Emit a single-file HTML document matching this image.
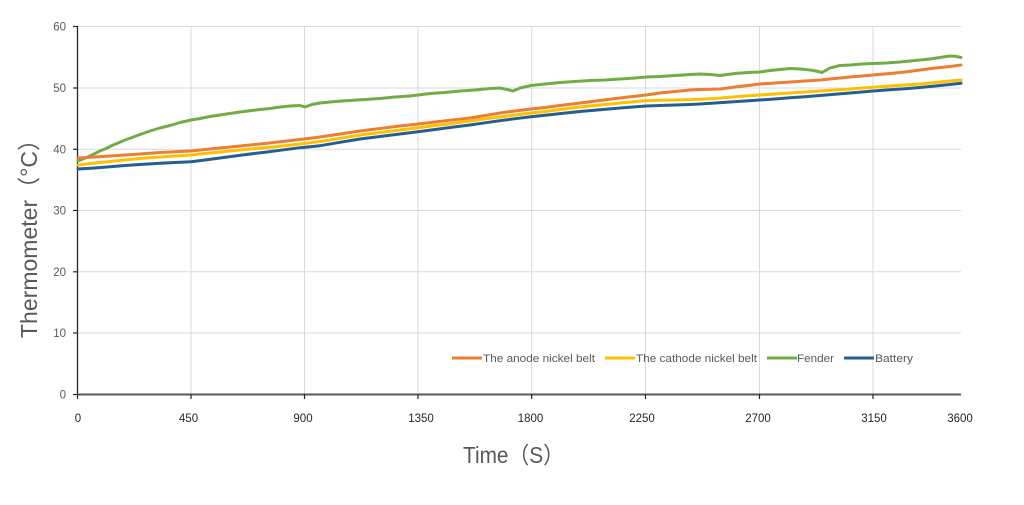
<!DOCTYPE html>
<html>
<head>
<meta charset="utf-8">
<style>
html,body{margin:0;padding:0;background:#fff;}
svg{display:block;}
text{font-family:"Liberation Sans","Noto Sans CJK SC",sans-serif;}
</style>
</head>
<body>
<svg width="1024" height="505" viewBox="0 0 1024 505" xmlns="http://www.w3.org/2000/svg">
<rect width="1024" height="505" fill="#fff"/>
<!-- horizontal gridlines -->
<g stroke="#d9d9d9" stroke-width="1">
<line x1="78" y1="26.5" x2="961" y2="26.5"/>
<line x1="78" y1="88" x2="961" y2="88"/>
<line x1="78" y1="149.3" x2="961" y2="149.3"/>
<line x1="78" y1="210.5" x2="961" y2="210.5"/>
<line x1="78" y1="271.8" x2="961" y2="271.8"/>
<line x1="78" y1="333" x2="961" y2="333"/>
<!-- vertical gridlines -->
<line x1="191" y1="26" x2="191" y2="394"/>
<line x1="304.5" y1="26" x2="304.5" y2="394"/>
<line x1="418" y1="26" x2="418" y2="394"/>
<line x1="531.7" y1="26" x2="531.7" y2="394"/>
<line x1="645.5" y1="26" x2="645.5" y2="394"/>
<line x1="759.5" y1="26" x2="759.5" y2="394"/>
<line x1="873" y1="26" x2="873" y2="394"/>
</g>
<!-- axes -->
<line x1="77.5" y1="26" x2="77.5" y2="395" stroke="#262626" stroke-width="1.3"/>
<line x1="77" y1="394.5" x2="961" y2="394.5" stroke="#595959" stroke-width="2"/>
<g stroke="#262626" stroke-width="1.2">
<line x1="73" y1="26.5" x2="78" y2="26.5"/>
<line x1="73" y1="88" x2="78" y2="88"/>
<line x1="73" y1="149.3" x2="78" y2="149.3"/>
<line x1="73" y1="210.5" x2="78" y2="210.5"/>
<line x1="73" y1="271.8" x2="78" y2="271.8"/>
<line x1="73" y1="333" x2="78" y2="333"/>
<line x1="73" y1="394.5" x2="78" y2="394.5"/>
<line x1="77.5" y1="394" x2="77.5" y2="399"/>
<line x1="191" y1="394" x2="191" y2="399"/>
<line x1="304.5" y1="394" x2="304.5" y2="399"/>
<line x1="418" y1="394" x2="418" y2="399"/>
<line x1="531.7" y1="394" x2="531.7" y2="399"/>
<line x1="645.5" y1="394" x2="645.5" y2="399"/>
<line x1="759.5" y1="394" x2="759.5" y2="399"/>
<line x1="873" y1="394" x2="873" y2="399"/>
</g>
<!-- y labels -->
<g fill="#595959" font-size="11.5" text-anchor="end">
<text x="66" y="30.5">60</text>
<text x="66" y="92">50</text>
<text x="66" y="153.3">40</text>
<text x="66" y="214.5">30</text>
<text x="66" y="275.8">20</text>
<text x="66" y="337">10</text>
<text x="66" y="398.5">0</text>
</g>
<!-- x labels -->
<g fill="#262626" font-size="11.5" text-anchor="middle">
<text x="78" y="422">0</text>
<text x="188.5" y="422">450</text>
<text x="303" y="422">900</text>
<text x="421" y="422">1350</text>
<text x="530.5" y="422">1800</text>
<text x="642" y="422">2250</text>
<text x="758" y="422">2700</text>
<text x="874" y="422">3150</text>
<text x="960" y="422">3600</text>
</g>
<!-- series -->
<g fill="none" stroke-width="3" stroke-linejoin="round" stroke-linecap="round">
<polyline stroke="#70ad47" points="78,161 84,158.5 90,156 95,153.5 100,151 106,148.5 112,145.5 118,143 125,140 132,137.5 140,134.5 150,131 160,128 170,125.5 180,122.5 191,120 200,118.5 210,116.5 220,115 230,113.5 240,112 250,110.8 260,109.5 270,108.5 280,107 290,106 300,105.5 305,107 312,104.5 320,103 335,101.5 350,100.5 365,99.5 380,98.5 395,97 410,96 418,95 430,93.5 445,92.5 460,91 475,90 490,88.5 500,88 507,89.5 513,91 520,88 531,85.5 545,84 560,82.5 575,81.5 590,80.5 605,80 620,79 635,78 646,77 660,76.5 675,75.5 690,74.5 700,74 710,74.5 720,75.5 735,73.5 748,72.5 760,72 770,70.5 780,69.5 790,68.5 800,69 810,70 816,71 822,72.5 830,68 840,65.5 850,65 862,64 873,63.5 886,63 900,62 915,60.5 930,59 940,57.5 950,56 956,56.3 961,57.5"/>
<polyline stroke="#ed7d31" points="78,158 95,157 110,156 125,155 140,154 160,152.5 175,151.8 191,151 205,149.5 220,148 235,146.5 250,145 265,143.5 280,141.8 300,139.5 320,137 340,134 360,131 380,128.5 400,126 418,124 435,122 450,120.3 470,118 485,115.5 500,113 515,111 531,109 545,107.5 560,105.5 580,103 600,100.5 620,98 646,95 660,93 675,91.5 690,90 700,89.5 710,89.3 720,89 735,87 748,85.5 760,84 775,83 790,82 805,81 820,80 835,78.5 850,77 862,76 873,75 890,73.5 905,72 920,70 935,68 950,66.5 961,65"/>
<polyline stroke="#ffc000" points="78,165 95,163 110,161.5 125,160 140,158.5 160,157 175,156 191,155 205,153.5 220,152 235,150.5 250,149 265,147.8 280,146.3 300,144 320,141.5 340,138.3 360,135 380,132.5 400,130 418,127.7 435,125.5 450,123.8 470,121 485,118.8 500,117 515,115 531,113 545,111.5 560,109.5 580,107 600,105 620,103 646,100.7 660,100.3 675,100 690,99.6 700,99.3 715,98.5 730,97.2 745,96 760,95 775,94 790,93 805,92 820,91 835,90 850,89 862,88 873,87.3 890,86 905,85 920,84 935,82.5 950,81 961,80"/>
<polyline stroke="#255e91" points="78,169 95,168 110,166.8 125,165.5 140,164.5 160,163.3 175,162.5 191,161.7 205,160 220,158 235,156 250,154 265,152.3 280,150.3 300,147.7 320,145.7 340,142.3 360,139 380,136.5 400,134 418,131.7 435,129.5 450,127.5 470,125 485,122.8 500,120.7 515,118.7 531,116.7 545,115.2 560,113.6 580,111.5 600,109.8 620,108 646,106 660,105.5 675,105 690,104.5 700,104 715,103 730,102 745,101 760,100 775,99 790,97.8 805,96.7 820,95.5 835,94.3 850,93 862,92 873,91 890,89.8 905,88.7 920,87.5 935,86 950,84.5 961,83.3"/>
</g>
<!-- legend -->
<g stroke-width="3">
<line x1="452" y1="358" x2="482" y2="358" stroke="#ed7d31"/>
<line x1="605" y1="358" x2="635" y2="358" stroke="#ffc000"/>
<line x1="767" y1="358" x2="797" y2="358" stroke="#70ad47"/>
<line x1="844" y1="358" x2="874" y2="358" stroke="#255e91"/>
</g>
<g fill="#595959" font-size="11">
<text x="483" y="362" textLength="112" lengthAdjust="spacingAndGlyphs">The anode nickel belt</text>
<text x="636" y="362" textLength="121" lengthAdjust="spacingAndGlyphs">The cathode nickel belt</text>
<text x="797" y="362" textLength="37" lengthAdjust="spacingAndGlyphs">Fender</text>
<text x="875" y="362" textLength="38" lengthAdjust="spacingAndGlyphs">Battery</text>
</g>
<!-- axis titles -->
<text x="463" y="463" fill="#595959" font-size="23" textLength="101" lengthAdjust="spacingAndGlyphs">Time（S）</text>
<text transform="translate(37,338) rotate(-90)" x="0" y="0" fill="#595959" font-size="23" textLength="210" lengthAdjust="spacingAndGlyphs">Thermometer（°C）</text>
</svg>
</body>
</html>
